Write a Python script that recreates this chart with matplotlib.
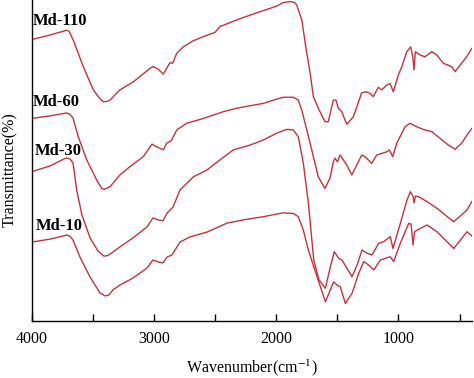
import matplotlib
matplotlib.use("Agg")
import matplotlib.pyplot as plt
from matplotlib.ticker import MultipleLocator, FixedLocator

plt.rcParams['font.family'] = ['Liberation Serif', 'DejaVu Serif']
plt.rcParams['mathtext.fontset'] = 'stix'

# ---- data (wavenumber, arbitrary transmittance) ----
wn_110 = [4000, 3850, 3730, 3714, 3695, 3660, 3578, 3496, 3441, 3414, 3384, 3360, 3278, 3169, 3032, 3008,
          2967, 2923, 2896, 2869, 2847, 2814, 2760, 2678, 2596, 2501, 2460, 2323, 2160, 1996, 1942,
          1887, 1850, 1832, 1791, 1750, 1723, 1696, 1656, 1601, 1574, 1533, 1511, 1492, 1464, 1423, 1369,
          1301, 1260, 1233, 1206, 1165, 1137, 1096, 1069, 1042, 1001, 973, 932, 900, 883, 873,
          862, 824, 783, 728, 687, 633, 564, 537, 496, 442, 400]
t_110 = [87.7, 89.1, 90.4, 90.6, 90.3, 87.5, 79.2, 72.0, 69.2, 68.3, 68.4, 68.8, 72.0, 74.5, 78.7, 79.3,
         78.5, 76.9, 78.7, 80.5, 80.3, 83.4, 85.4, 87.3, 88.6, 89.9, 91.7, 93.8, 96.0, 98.1, 99.2,
         99.5, 99.2, 98.4, 93.8, 83.4, 77.3, 69.9, 66.3, 62.1, 62.1, 68.8, 68.8, 66.3, 65.2, 61.3, 63.6,
         71.1, 71.4, 70.9, 69.9, 72.8, 72.0, 73.5, 74.0, 71.4, 76.6, 79.2, 83.9, 85.4, 82.3, 78.2,
         83.9, 82.9, 82.3, 83.9, 82.9, 80.3, 79.2, 77.7, 79.7, 82.3, 84.9]

wn_60 = [4000, 3850, 3730, 3714, 3687, 3662, 3619, 3550, 3468, 3427, 3409, 3360, 3278, 3196, 3087, 3016,
         2991, 2923, 2896, 2869, 2855, 2814, 2732, 2596, 2433, 2323, 2105, 2024, 1942, 1860, 1819,
         1791, 1750, 1723, 1696, 1656, 1601, 1560, 1533, 1519, 1500, 1478, 1451, 1423, 1382, 1341,
         1301, 1274, 1247, 1219, 1178, 1137, 1096, 1075, 1047, 1014, 987, 946, 905, 851, 783,
         728, 660, 592, 537, 483, 429, 400]
t_60 = [63.1, 63.9, 64.7, 64.8, 64.4, 63.2, 57.4, 50.2, 43.9, 41.3, 41.0, 41.8, 45.5, 48.1, 51.2, 55.1,
        54.5, 53.3, 55.4, 55.9, 56.4, 59.5, 61.6, 63.1, 65.2, 66.3, 67.8, 68.8, 69.7, 69.7, 68.8,
        65.7, 59.5, 55.4, 51.2, 44.9, 41.3, 44.5, 49.6, 50.7, 49.6, 51.7, 50.2, 48.6, 45.5, 48.6,
        51.7, 51.2, 50.2, 49.1, 51.7, 52.2, 52.7, 53.3, 51.2, 55.4, 57.4, 60.5, 61.6, 60.5, 59.5,
        59.0, 56.9, 54.8, 53.5, 55.4, 58.5, 60.0]

wn_30 = [4000, 3850, 3730, 3714, 3687, 3662, 3632, 3589, 3523, 3458, 3409, 3376, 3335, 3278, 3171, 3057,
         3008, 2967, 2926, 2893, 2844, 2787, 2678, 2568, 2460, 2351, 2214, 2105, 1996, 1914, 1860,
         1819, 1778, 1737, 1693, 1650, 1598, 1557, 1525, 1489, 1462, 1380, 1339, 1298, 1257, 1216,
         1162, 1121, 1067, 1045, 985, 930, 903, 881, 873, 861, 834, 766, 685, 548, 439, 400]
t_30 = [46.5, 48.3, 50.6, 50.8, 50.5, 49.2, 40.8, 33.0, 25.9, 21.8, 20.2, 20.4, 21.5, 23.1, 25.9, 29.3,
        32.1, 31.5, 31.2, 33.6, 35.5, 40.8, 44.9, 47.0, 50.2, 53.3, 54.8, 56.4, 58.5, 59.7, 59.5,
        57.4, 49.1, 36.7, 19.0, 12.8, 10.2, 16.9, 21.6, 19.5, 19.0, 13.8, 17.4, 22.1, 21.1, 20.6,
        24.2, 24.7, 26.3, 22.6, 30.4, 37.7, 40.3, 38.9, 36.8, 38.9, 38.7, 37.2, 35.1, 30.9, 34.6,
        37.2]

wn_10 = [4000, 3850, 3730, 3714, 3687, 3662, 3605, 3523, 3441, 3400, 3368, 3335, 3278, 3171, 3057, 3008,
         2967, 2926, 2893, 2852, 2787, 2705, 2566, 2402, 2269, 2105, 1942, 1860, 1819, 1778, 1737,
         1666, 1598, 1557, 1530, 1503, 1476, 1435, 1380, 1325, 1284, 1243, 1202, 1148, 1067, 1039,
         985, 916, 897, 881, 869, 848, 766, 685, 548, 439, 400]
t_10 = [24.6, 25.5, 26.6, 26.8, 26.4, 25.2, 19.9, 13.7, 8.7, 7.8, 8.1, 9.7, 11.2, 13.4, 16.5, 19.0,
        18.4, 18.1, 19.9, 20.6, 24.6, 26.2, 27.7, 30.5, 31.5, 32.5, 33.7, 33.5, 32.5, 28.3, 22.1,
        13.8, 6.0, 9.7, 12.2, 11.2, 10.7, 5.5, 8.6, 14.9, 18.5, 17.4, 15.9, 19.0, 20.0, 18.5,
        24.2, 30.4, 30.2, 23.7, 27.7, 28.3, 29.9, 27.8, 22.6, 27.8, 26.5]

series = [(wn_110, t_110), (wn_60, t_60), (wn_30, t_30), (wn_10, t_10)]
names = ['Md-110', 'Md-60', 'Md-30', 'Md-10']
x_ticks = [4000, 3000, 2000, 1000]
x_tick_labels = ['4000', '3000', '2000', '1000']

line_color = '#c8323c'

fig = plt.figure(figsize=(4.74, 3.78), dpi=100)
ax = fig.add_axes([0.0669, 0.1508, 0.9285, 0.8492])

for wn, t in series:
    ax.plot(wn, t, color=line_color, lw=1.0, solid_joinstyle='round')

label_pos = [(3990, 93.5), (3990, 68.1), (3975, 53.0), (3967, 29.6)]
for name, (lx, ly) in zip(names, label_pos):
    ax.text(lx, ly, name, fontsize=12, fontweight='bold', ha='left', va='center')

ax.set_xlim(4000, 400)
ax.set_ylim(0, 100)
ax.xaxis.set_major_locator(FixedLocator(x_ticks))
ax.set_xticklabels(x_tick_labels)
ax.xaxis.set_minor_locator(MultipleLocator(500))
ax.tick_params(axis='x', which='both', direction='in', length=5, width=1.0, labelsize=11.5, pad=7)
ax.set_yticks([])
for s in ['top', 'right']:
    ax.spines[s].set_visible(False)
for s in ['left', 'bottom']:
    ax.spines[s].set_linewidth(1.0)

ax.set_xlabel('Wavenumber(cm$^{-1}$)', fontsize=11.5, labelpad=8)
ax.set_ylabel('Transmittance(%)', fontsize=11.5)
ax.yaxis.set_label_coords(-0.03, 0.473)

fig.savefig('out.png', dpi=100)
